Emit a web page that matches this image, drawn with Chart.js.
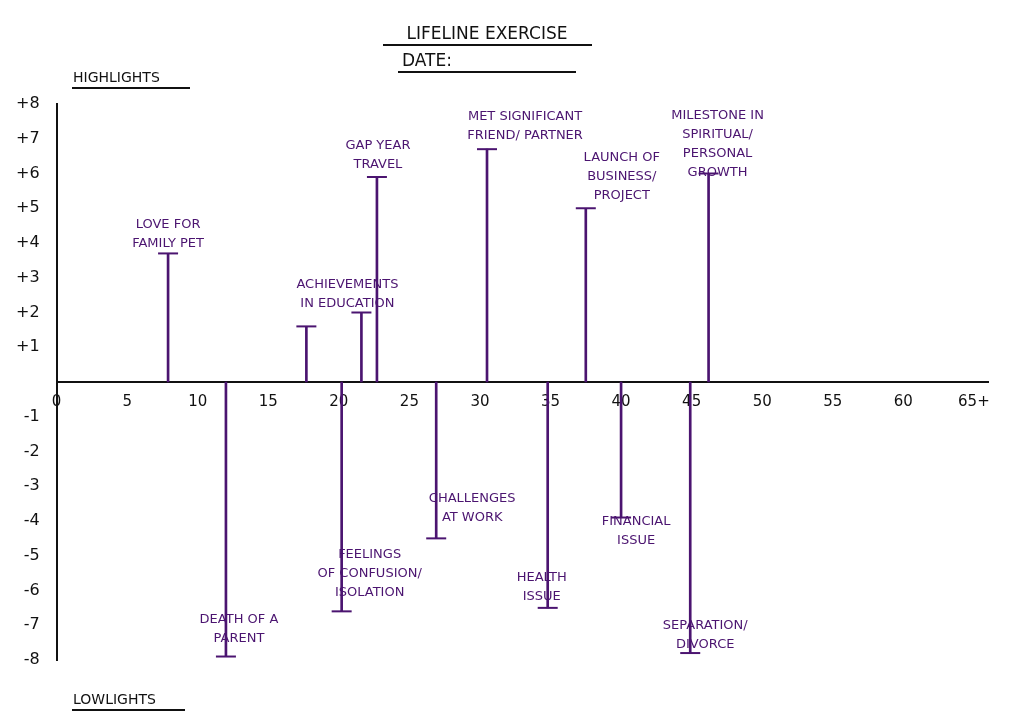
<!DOCTYPE html>
<html><head><meta charset="utf-8">
<script src="https://cdn.jsdelivr.net/npm/chart.js@4/dist/chart.umd.min.js"></script>
<style>body{margin:0;background:#fff}#wrap{width:1024px;height:723px;position:relative}</style>
</head><body><div id="wrap"><canvas id="myChart"></canvas></div>
<script>
// ages and ratings
const ages = [7.9, 12, 17.7, 20.2, 21.6, 22.7, 26.9, 30.5, 34.8, 37.5, 40, 44.9, 46.2];
const ratings = [3.7, -7.9, 1.6, -6.6, 2.0, 5.9, -4.5, 6.7, -6.5, 5.0, -3.9, -7.8, 6.0];
const eventLabels = [
  ['LOVE FOR', 'FAMILY PET'], ['DEATH OF A', 'PARENT'], [],
  ['FEELINGS', 'OF CONFUSION/', 'ISOLATION'], ['ACHIEVEMENTS', 'IN EDUCATION'],
  ['GAP YEAR', 'TRAVEL'], ['CHALLENGES', 'AT WORK'], ['MET SIGNIFICANT', 'FRIEND/ PARTNER'],
  ['HEALTH', 'ISSUE'], ['LAUNCH OF', 'BUSINESS/', 'PROJECT'], ['FINANCIAL', 'ISSUE'],
  ['SEPARATION/', 'DIVORCE'], ['MILESTONE IN', 'SPIRITUAL/', 'PERSONAL', 'GROWTH']
];
const xTicks = [0, 5, 10, 15, 20, 25, 30, 35, 40, 45, 50, 55, 60, 65];

// label placement relative to the end of each line (pixels)
const labelOffsets = [[0,-29],[13,-37],[0,0],[28,-57],[-14,-28],[1,-31],[36,-40],[38,-33],[-6,-30],[36,-51],[15,4],[15,-27],[9,-58]];
const ink = '#4b1470';

const notes = {
  id: 'notes',
  afterDatasetsDraw(chart) {
    const ctx = chart.ctx;
    const meta = chart.getDatasetMeta(0);
    ctx.save();
    ctx.fillStyle = ink;
    ctx.strokeStyle = ink;
    ctx.lineWidth = 2;
    ctx.font = '13px "DejaVu Sans"';
    ctx.textAlign = 'center';
    ctx.textBaseline = 'middle';
    meta.data.forEach((bar, i) => {
      const endY = bar.y;
      ctx.beginPath();
      ctx.moveTo(bar.x - 10, endY);
      ctx.lineTo(bar.x + 10, endY);
      ctx.stroke();
      const [dx, dy] = labelOffsets[i];
      eventLabels[i].forEach((t, k) => ctx.fillText(t, bar.x + dx, endY + dy + k * 19));
    });
    ctx.fillStyle = '#111';
    ctx.strokeStyle = '#111';
    ctx.font = '17px "DejaVu Sans"';
    ctx.fillText('LIFELINE EXERCISE', 487, 35);
    ctx.textAlign = 'left';
    ctx.fillText('DATE:', 402, 62);
    ctx.font = '14px "DejaVu Sans"';
    ctx.fillText('HIGHLIGHTS', 73, 78);
    ctx.fillText('LOWLIGHTS', 73, 700);
    ctx.lineWidth = 2;
    [[383,45,592,45],[398,72,576,72],[72,88,190,88],[72,710,185,710]].forEach(l => {
      ctx.beginPath(); ctx.moveTo(l[0], l[1]); ctx.lineTo(l[2], l[3]); ctx.stroke();
    });
    ctx.restore();
  }
};

new Chart(document.getElementById('myChart'), {
  type: 'bar',
  data: {
    datasets: [{
      data: ages.map((a, i) => ({ x: a, y: ratings[i] })),
      backgroundColor: ink,
      barThickness: 2
    }]
  },
  options: {
    responsive: true,
    maintainAspectRatio: false,
    animation: false,
    layout: { padding: { left: 7, right: 36, top: 104, bottom: 63 } },
    plugins: { legend: { display: false }, tooltip: { enabled: false } },
    scales: {
      x: {
        type: 'linear', min: 0, max: 66, offset: false, position: { y: 0 },
        afterBuildTicks: s => { s.ticks = xTicks.map(v => ({ value: v })); },
        grid: { display: false },
        border: { color: '#111', width: 2 },
        ticks: { color: '#111', font: { size: 15, family: 'DejaVu Sans' },
          callback: v => v === 65 ? '65+' : v }
      },
      y: {
        min: -8, max: 8,
        grid: { display: false },
        border: { color: '#111', width: 2 },
        ticks: { stepSize: 1, color: '#111', padding: 9, font: { size: 16, family: 'DejaVu Sans' },
          callback: v => v === 0 ? '' : (v > 0 ? '+' + v : '' + v) }
      }
    }
  },
  plugins: [notes]
});
</script></body></html>
